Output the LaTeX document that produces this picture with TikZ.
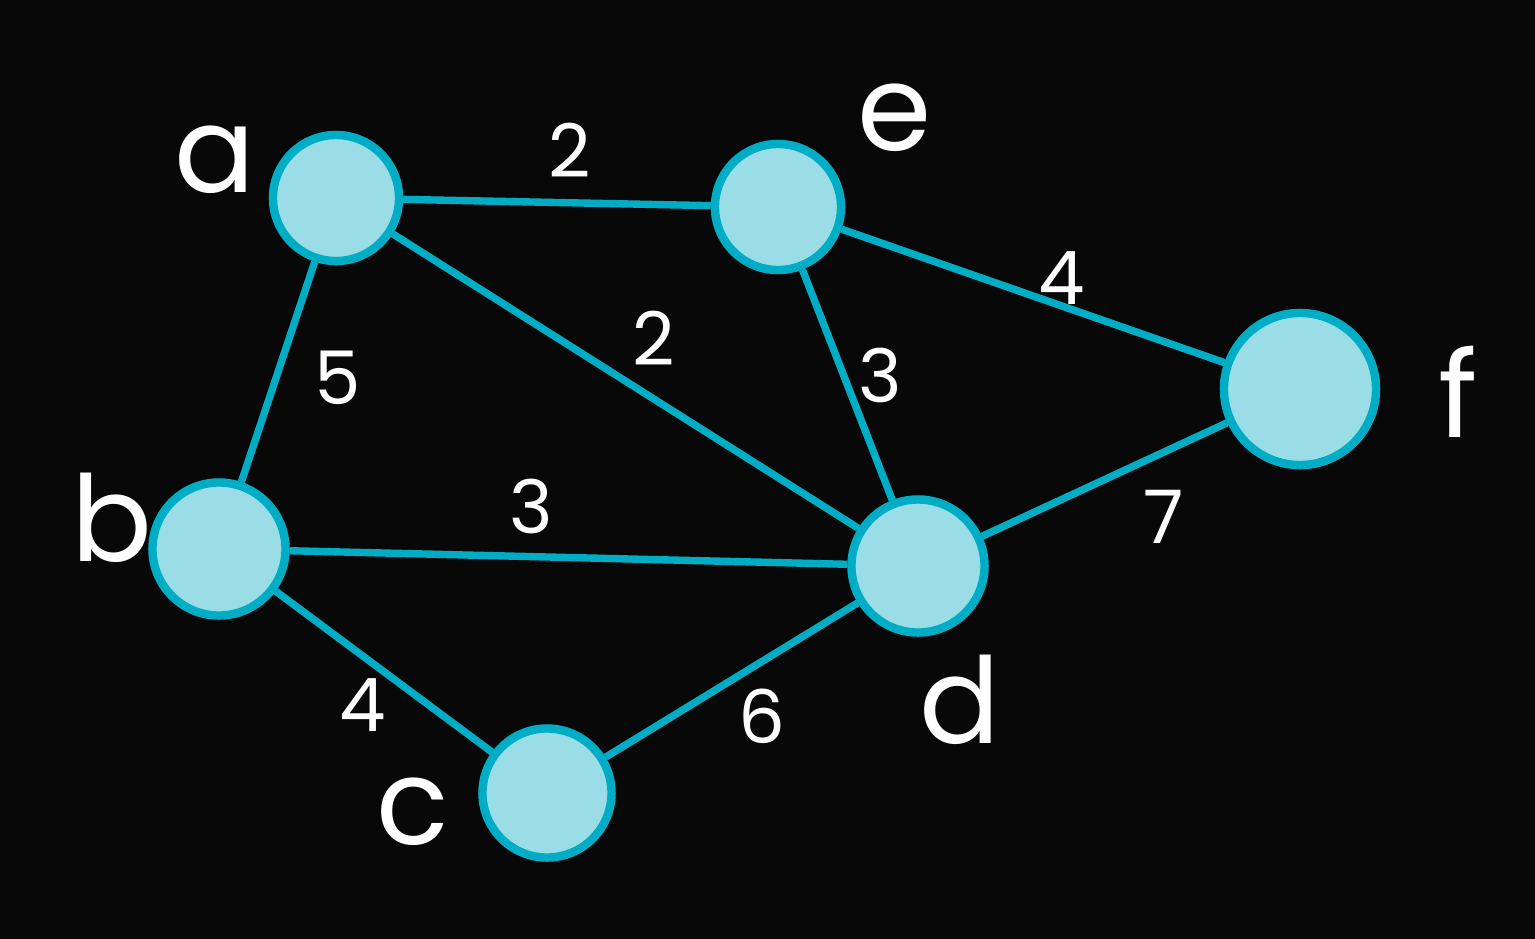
\documentclass[tikz,border=0pt]{standalone}
\usepackage{fontspec}
\setmainfont{Poppins}
\begin{document}
\begin{tikzpicture}[x=0.01cm,y=-0.01cm,
  vert/.style={circle,draw=edgec,fill=nodec,line width=2.4pt,inner sep=0pt},
  edge/.style={draw=edgec,line width=2.1pt},
  lab/.style={text=white,font=\fontsize{34}{34}\selectfont},
  wt/.style={text=white,font=\fontsize{21}{21}\selectfont}]
\definecolor{edgec}{HTML}{00ADC4}
\definecolor{nodec}{HTML}{9ADDE6}
\fill[fill={rgb,255:red,8;green,8;blue,8}] (0,0) rectangle (1535,939);
\useasboundingbox (0,0) rectangle (1535,939);
\node[vert,minimum size=1.26cm] (a) at (336,198) {};
\node[vert,minimum size=1.26cm] (e) at (778,207) {};
\node[vert,minimum size=1.52cm] (f) at (1300,389) {};
\node[vert,minimum size=1.33cm] (b) at (219,549) {};
\node[vert,minimum size=1.33cm] (d) at (918,566) {};
\node[vert,minimum size=1.29cm] (c) at (547,793) {};
\path[edge] (a) -- (e) (a) -- (d) (a) -- (b) (e) -- (d) (e) -- (f) (b) -- (d) (b) -- (c) (c) -- (d) (d) -- (f);
\node[lab] (la) at (215,160) {a};
\node[lab] (le) at (895,118) {e};
\node[lab] (lf) at (1458,392) {f};
\node[lab] (lb) at (112,518) {b};
\node[lab] (ld) at (960,700) {d};
\node[lab] (lc) at (413,812) {c};
\node[wt] (w1) at (570,150) {2};
\node[wt] (w2) at (654,338) {2};
\node[wt] (w3) at (338,378) {5};
\node[wt] (w4) at (880,375) {3};
\node[wt] (w5) at (1062,278) {4};
\node[wt] (w6) at (531,506) {3};
\node[wt] (w7) at (1164,517) {7};
\node[wt] (w8) at (363,705) {4};
\node[wt] (w9) at (762,716) {6};
\end{tikzpicture}
\end{document}
